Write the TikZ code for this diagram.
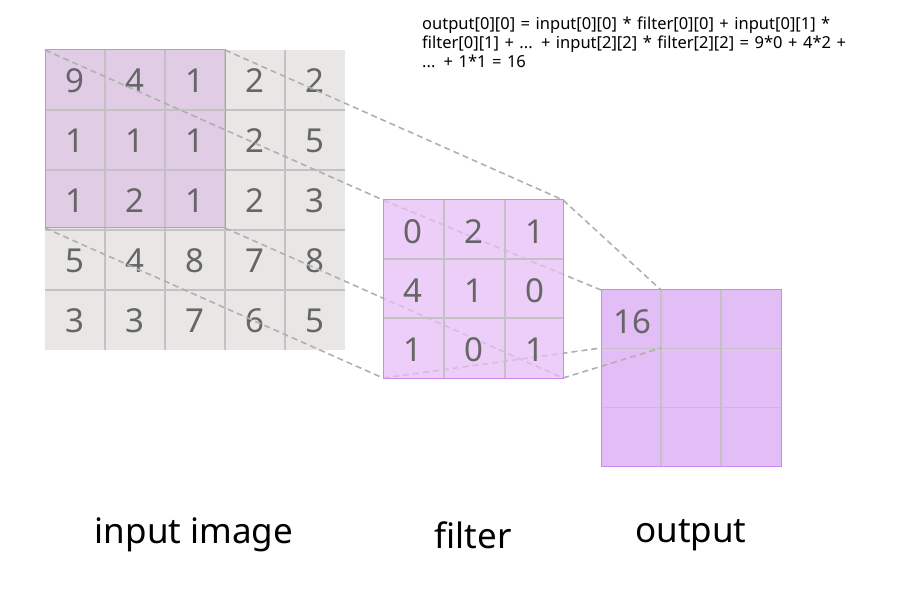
\documentclass[tikz,border=0pt]{standalone}
\usepackage{fontspec}
\setmainfont{Noto Sans}
\definecolor{gridbg}{HTML}{E8E7E5}
\definecolor{hl}{HTML}{E0CCE4}
\definecolor{filt}{HTML}{E6BEF5}
\definecolor{outc}{HTML}{E3BDF5}
\definecolor{brd}{HTML}{CC88EE}
\definecolor{gl}{HTML}{C4C0C4}
\definecolor{num}{HTML}{666666}
\definecolor{dl}{HTML}{B0B0B0}
\begin{document}
\begin{tikzpicture}[x=1pt,y=-1pt,
  numtxt/.style={text=num,font=\fontsize{33}{33}\selectfont},
  dash line/.style={dl,dash pattern=on 6pt off 4pt,line width=1.6pt},
  gridln/.style={gl,line width=1.3pt},
  lbl/.style={font=\fontsize{35}{35}\selectfont}]
\useasboundingbox (0,0) rectangle (901,593);
% input
\fill[gridbg] (45,50) rectangle (345,350);
\fill[hl] (45,50) rectangle (225,228);
\foreach \i in {1,...,4}{
  \draw[gridln] (45+60*\i,50) -- (45+60*\i,350);
  \draw[gridln] (45,50+60*\i) -- (345,50+60*\i);}
\draw[brd,line width=1pt] (45,50) rectangle (225,228);
\foreach \r/\row in {0/{9,4,1,2,2},1/{1,1,1,2,5},2/{1,2,1,2,3},3/{5,4,8,7,8},4/{3,3,7,6,5}}{
  \foreach \v [count=\c from 0] in \row
    \node[numtxt] (in\r\c) at (75+60*\c,81+60*\r) {\v};}
% coordinates
\coordinate (a1) at (45,50); \coordinate (a2) at (225,50);
\coordinate (a3) at (45,228); \coordinate (a4) at (225,228);
\coordinate (f1) at (383,200); \coordinate (f2) at (563,200);
\coordinate (f3) at (383,378); \coordinate (f4) at (563,378);
\coordinate (o1) at (601,290); \coordinate (o2) at (661,290);
\coordinate (o3) at (601,348); \coordinate (o4) at (661,348);
% output
\fill[outc] (601,290) rectangle (781,466);
\foreach \i in {1,2}{
  \draw[gridln] (601+60*\i,290) -- (601+60*\i,466);
  \draw[gridln] (601,290+58.7*\i) -- (781,290+58.7*\i);}
\draw[brd,line width=1pt] (601,290) rectangle (781,466);
\node[numtxt] (o16) at (632,322) {16};
% dashed lines
\draw[dash line] (a1) -- (f1) -- (o1);
\draw[dash line] (a2) -- (f2) -- (o2);
\draw[dash line] (a3) -- (f3) -- (o3);
\draw[dash line] (a4) -- (f4) -- (o4);
% filter
\fill[filt,opacity=0.75] (383,200) rectangle (563,378);
\foreach \i in {1,2}{
  \draw[gridln] (383+61*\i,200) -- (383+61*\i,378);
  \draw[gridln] (383,200+59*\i) -- (563,200+59*\i);}
\draw[brd,line width=1pt] (383,200) rectangle (563,378);
\foreach \r/\row in {0/{0,2,1},1/{4,1,0},2/{1,0,1}}{
  \foreach \v [count=\c from 0] in \row
    \node[numtxt] (fl\r\c) at (413+61*\c,232+59*\r) {\v};}
% labels
\node[lbl] (l1) at (194,535) {input image};
\node[lbl] (l2) at (473,535) {filter};
\node[lbl] (l3) at (691,535) {output};
\node[font=\fontsize{16.5}{19}\selectfont,align=left,anchor=north west,inner sep=0pt,text width=480pt] (eq) at (422,17)
{output[0][0] = input[0][0] * filter[0][0] + input[0][1] *\\ filter[0][1] + ... + input[2][2] * filter[2][2] = 9*0 + 4*2 +\\ ... + 1*1 = 16};
\end{tikzpicture}
\end{document}
